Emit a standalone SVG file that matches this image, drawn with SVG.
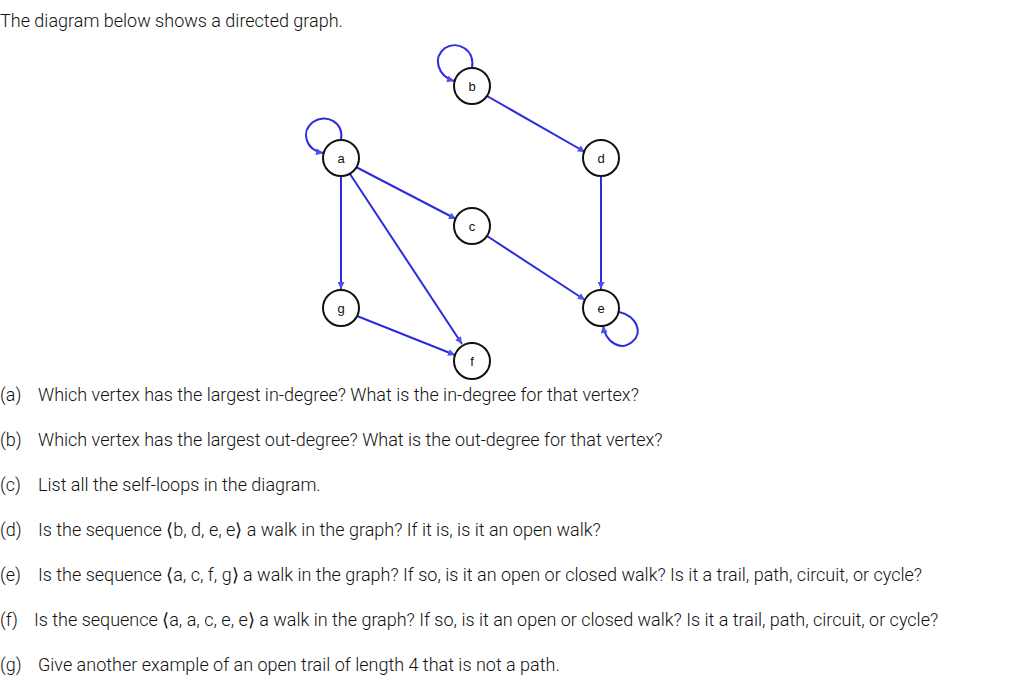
<svg xmlns="http://www.w3.org/2000/svg" width="1024" height="691" viewBox="0 0 1024 691">
<style>
.t{font-family:Roboto,"Liberation Sans",sans-serif;font-weight:300;font-size:18px;fill:#111}
.n circle{fill:#fff;stroke:#111;stroke-width:2}
.n text{font-family:"Liberation Sans",Arial,sans-serif;font-size:13px;text-anchor:middle;fill:#111}
.e{stroke:#2b2be0;stroke-width:2;fill:none;marker-end:url(#ah)}
</style>
<defs><marker id="ah" viewBox="0 0 10 10" refX="10" refY="5" markerWidth="8" markerHeight="7" orient="auto" markerUnits="userSpaceOnUse"><path d="M0,0L10,5L0,10z" fill="#5050ee"/></marker></defs>
<rect width="1024" height="691" fill="#fff"/>
<text class="t" x="0" y="27">The diagram below shows a directed graph.</text>
<g id="edges">
<path class="e" d="M472,68 C475,50 458,40 445,48 C432,58 438,76 454,81"/>
<path class="e" d="M341,140 C344,122 326,113 313,122 C300,132 306,150 323,153"/>
<path class="e" d="M619,312 C636,316 644,332 632,342 C621,351 606,343 603,326"/>
<path class="e" d="M487,96 L585,152"/>
<path class="e" d="M356,167 L456,219"/>
<path class="e" d="M341,176 L341,289"/>
<path class="e" d="M350,174 L462,344"/>
<path class="e" d="M601,176 L601,289"/>
<path class="e" d="M487,236 L585,300"/>
<path class="e" d="M357,316 L455,355"/>
</g>
<g id="node-a" class="n"><circle cx="341" cy="158" r="18"/><text x="341" y="163">a</text></g>
<g id="node-b" class="n"><circle cx="472" cy="86" r="18"/><text x="472" y="91">b</text></g>
<g id="node-c" class="n"><circle cx="472" cy="226" r="18"/><text x="472" y="231">c</text></g>
<g id="node-d" class="n"><circle cx="601" cy="158" r="18"/><text x="601" y="163">d</text></g>
<g id="node-e" class="n"><circle cx="601" cy="308" r="18"/><text x="601" y="313">e</text></g>
<g id="node-g" class="n"><circle cx="341" cy="308" r="18"/><text x="341" y="313">g</text></g>
<g id="node-f" class="n"><circle cx="472" cy="361" r="18"/><text x="472" y="366">f</text></g>
<text class="t" x="0" y="401">(a)</text><text class="t" x="38" y="401">Which vertex has the largest in-degree? What is the in-degree for that vertex?</text>
<text class="t" x="0" y="446">(b)</text><text class="t" x="38" y="446">Which vertex has the largest out-degree? What is the out-degree for that vertex?</text>
<text class="t" x="0" y="491">(c)</text><text class="t" x="38" y="491">List all the self-loops in the diagram.</text>
<text class="t" x="0" y="536">(d)</text><text class="t" x="38" y="536">Is the sequence ⟨b, d, e, e⟩ a walk in the graph? If it is, is it an open walk?</text>
<text class="t" x="0" y="581">(e)</text><text class="t" x="38" y="581">Is the sequence ⟨a, c, f, g⟩ a walk in the graph? If so, is it an open or closed walk? Is it a trail, path, circuit, or cycle?</text>
<text class="t" x="0" y="626">(f)</text><text class="t" x="34" y="626">Is the sequence ⟨a, a, c, e, e⟩ a walk in the graph? If so, is it an open or closed walk? Is it a trail, path, circuit, or cycle?</text>
<text class="t" x="0" y="671">(g)</text><text class="t" x="38" y="671">Give another example of an open trail of length 4 that is not a path.</text>
</svg>
